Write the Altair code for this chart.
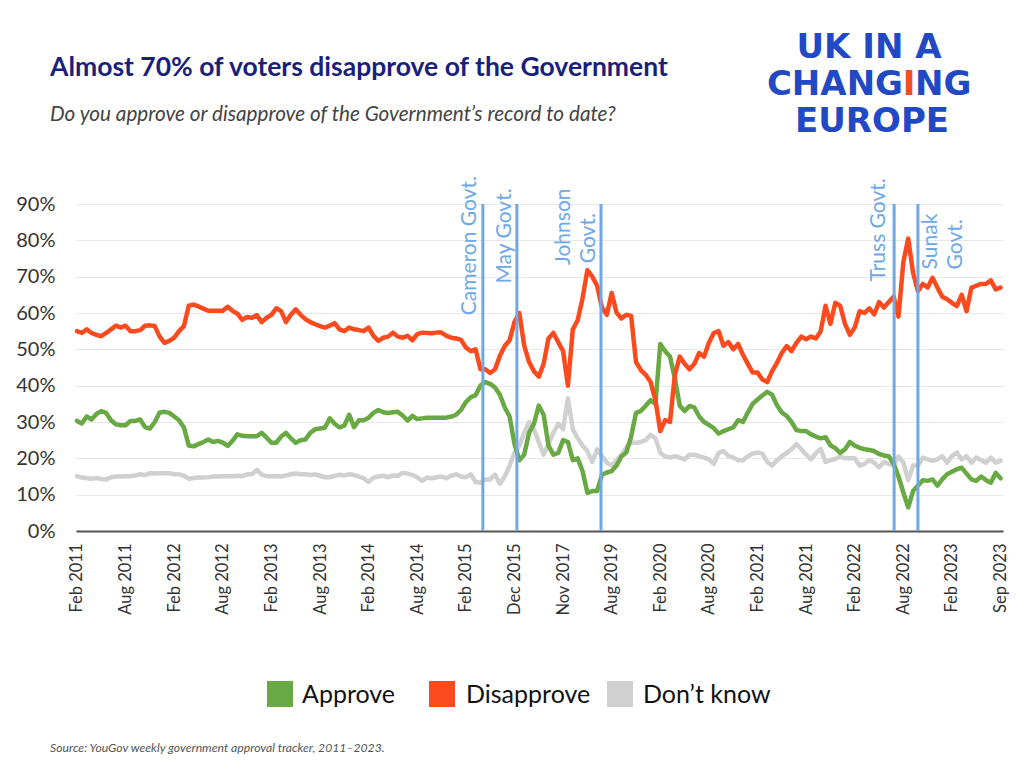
import json
import altair as alt
import pandas as pd

# ---------------------------------------------------------------------------
# Data: YouGov weekly government approval tracker, resampled to one value
# every tenth of an axis interval (ten points between consecutive tick labels)
# ---------------------------------------------------------------------------
TICK_LABELS = [
    "Feb 2011", "Aug 2011", "Feb 2012", "Aug 2012", "Feb 2013", "Aug 2013",
    "Feb 2014", "Aug 2014", "Feb 2015", "Dec 2015", "Nov 2017", "Aug 2019",
    "Feb 2020", "Aug 2020", "Feb 2021", "Aug 2021", "Feb 2022", "Aug 2022",
    "Feb 2023", "Sep 2023",
]
POINTS_PER_TICK = 10

APPROVE = [
    30.3, 29.6, 31.5, 30.7, 32.2, 33, 32.5, 30.5, 29.4, 29.1,
    29.1, 30.3, 30.3, 30.7, 28.6, 28.2, 30, 32.6, 32.8, 32.5,
    31.5, 30.5, 28.5, 23.5, 23.3, 23.9, 24.5, 25.2, 24.5, 24.8,
    24.3, 23.4, 24.8, 26.6, 26.2, 26.1, 26.1, 26.1, 27, 25.7,
    24.3, 24.3,
    26, 27, 25.5, 24.3, 25, 25.2, 27, 28, 28.2, 28.4,
    31, 29.5, 28.5, 29, 32, 28.6, 30.5, 30.5, 31.2, 32.5,
    33.3, 32.7, 32.5, 32.7, 32.8, 31.8, 30.4, 31.7, 30.8, 31,
    31.2, 31.2, 31.2, 31.2, 31.2, 31.5, 32, 33.3, 35.5, 36.8,
    37.4, 40,
    41, 40.5, 39.5, 37.5, 34, 31.5, 24, 19.5, 21, 27,
    29.5, 34.5, 32, 23.5, 21, 21.5, 25, 24.5, 19.5, 20,
    16.5, 10.5, 11, 11, 15.5, 16.1, 16.5, 18, 20.5, 21.6,
    26, 32.5, 33,
    34.5, 36, 35, 51.5, 49.5, 48,
    42, 34.5, 33, 34.4, 34, 31.5, 30, 29.2, 28.3, 26.8,
    27.5, 28, 28.5, 30.5, 30, 32.6, 35, 36.2, 37.3, 38.3,
    37.5, 34.6, 32.6, 31.7, 30, 27.8, 27.5, 27.5, 26.6, 26,
    25.5, 25.8, 23.6, 22.8, 21.5, 22.5, 24.5,
    23.5, 22.9, 22.5, 22.3, 22, 21.2, 20.8, 20.6, 18.5, 15,
    10.6, 6.5, 11, 12.5, 14, 13.8, 14.2, 12.5, 14.2, 15.6,
    16.3, 17, 17.4, 15.8, 14.2, 13.8, 15, 14, 13.3, 16,
    14.5,
]

DISAPPROVE = [
    55, 54.5, 55.5, 54.5, 54, 53.6, 54.5, 55.5, 56.5, 56,
    56.5, 55, 55, 55.3, 56.5, 56.6, 56.4, 53.5, 51.8, 52.3,
    53.2, 55, 56.4, 62, 62.3, 61.8, 61.2, 60.6, 60.6, 60.6,
    60.6, 61.7, 60.6, 59.8, 58.1, 58.9, 58.7, 59.4, 57.5, 58.7,
    59.5, 61.3,
    60.5, 57.5, 59.5, 61, 59.5, 58.3, 57.5, 56.9, 56.4, 56,
    56.5, 57.2, 55.5, 55, 56, 55.5, 55.3, 55, 56, 53.7,
    52.3, 53.2, 53.5, 54.6, 53.5, 53.2, 53.7, 52.5, 54.2, 54.6,
    54.5, 54.4, 54.6, 54.6, 53.7, 53.2, 53, 52.6, 50.5, 49.5,
    50, 44.5,
    44.5, 43.5, 44.5, 48.2, 50.9, 52.5, 57.5, 60, 51, 46.5,
    44, 42.5, 46, 53, 54.5, 52, 49.5, 40, 55.5, 58,
    64, 71.8, 70, 67.5, 61.5, 59.5, 65.5, 60.1, 58.5, 59.5,
    59.2, 46.5, 44.3,
    43, 41, 36, 27.5, 30.5, 30,
    43, 48, 46, 44.5, 46, 49, 48, 51.8, 54.5, 55,
    51, 52, 50, 51.5, 48.5, 46, 43.6, 43.6, 41.7, 41,
    44, 46.3, 49, 50.9, 49.5, 51.8, 53.5, 52.8, 53.5, 53,
    55, 62, 57, 62.8, 62, 57, 54,
    56, 60.5, 60, 61.3, 59.6, 63, 61.5, 63, 64.5, 59,
    74, 80.5, 71, 66, 68, 67, 69.7, 67, 64.5, 63.8,
    62.8, 61.9, 65, 60.5, 67, 67.5, 68, 68, 69, 66.5,
    67,
]

DONT_KNOW = [
    15.1, 14.7, 14.5, 14.4, 14.6, 14.3, 14.2, 14.8, 15, 15,
    15.1, 15.1, 15.3, 15.6, 15.4, 15.9, 15.8, 15.9, 15.9, 15.9,
    15.6, 15.6, 15.2, 14.4, 14.6, 14.7, 14.7, 14.8, 15, 15,
    15.1, 15.1, 15.1, 15.2, 15.1, 15.6, 15.6, 16.8, 15.5, 15.1,
    15.1, 15.1,
    15, 15.3, 15.6, 15.8, 15.6, 15.6, 15.4, 15.6, 15.2, 14.8,
    14.8, 15.2, 15.5, 15.3, 15.6, 15.4, 15, 14.5, 13.5, 14.7,
    15, 15.2, 14.8, 15.3, 15.2, 16, 15.8, 15.4, 14.8, 13.8,
    14.7, 14.5, 14.8, 15, 14.5, 15.2, 15.6, 15, 14.8, 15.6,
    13.5, 13.3,
    14.2, 14.2, 15.5, 13, 15, 18, 21.5, 23.5, 27, 30,
    28, 24.5, 21, 24, 27, 29.5, 28, 36.5, 28, 25.5,
    23.5, 22, 19, 22.5, 20.6, 18.8, 18, 19.5, 21, 23,
    24.3, 24.3, 24.5,
    25, 26.5, 25.5, 21.5, 20.5, 20.2,
    20.6, 20.2, 19.7, 21, 21, 20.6, 20.2, 19.7, 18.5, 21.5,
    22, 20.6, 20.2, 19.5, 19.5, 20.6, 21.3, 21.6, 21.3, 19,
    18, 19.5, 20.6, 21.5, 22.5, 23.9, 22.5, 21, 19.7, 21.4,
    22.6, 19, 19.5, 19.8, 20.5, 20, 20,
    20, 18, 18.5, 19.5, 18.8, 17.5, 19, 18.5, 18, 20.5,
    18.8, 14, 18, 18, 20.2, 19.7, 19.3, 19.7, 20.6, 18.8,
    20.6, 21.6, 19.7, 20.6, 18.8, 20.2, 19.5, 18.8, 20.2, 18.8,
    19.3,
]

SERIES = ["Approve", "Disapprove", "Don\u2019t know"]
SERIES_COLORS = ["#68a943", "#fb4a1e", "#d0d0d0"]

# Point index at which each government took office
GOVT_NAMES = ["Cameron", "May", "Johnson", "Truss", "Sunak"]
GOVT_STARTS = [83.5, 90.5, 107.8, 168.1, 173.0]

# Rotated labels beside the government lines: text, government, pixel offset
# from the line, and the % level where the text begins
GOVT_LABELS = [
    ("Cameron Govt.", 0, -13, 59.4),
    ("May Govt.", 1, -12, 68.1),
    ("Johnson", 2, -37, 73.2),
    ("Govt.", 2, -12, 73.7),
    ("Truss Govt.", 3, -15, 68.7),
    ("Sunak", 4, 13, 72.0),
    ("Govt.", 4, 38, 72.0),
]

# ---------------------------------------------------------------------------
# Layout
# ---------------------------------------------------------------------------
PAD_L, PAD_T = 76, 204
PLOT_W, PLOT_H = 927, 327
X_MIN, X_MAX = -0.2, 190.5
PX_PER_UNIT = PLOT_W / (X_MAX - X_MIN)
FONT = "Lato"
GOVT_BLUE = "#6ea8e6"

records = []
for name, values in zip(SERIES, [APPROVE, DISAPPROVE, DONT_KNOW]):
    for i, v in enumerate(values):
        records.append({"idx": i, "value": v, "series": name})
df = pd.DataFrame(records)

govt_df = pd.DataFrame({"name": GOVT_NAMES, "start": GOVT_STARTS})
govt_label_df = pd.DataFrame(
    [
        {"text": t, "xpos": GOVT_STARTS[g] + off / PX_PER_UNIT, "ypos": y}
        for t, g, off, y in GOVT_LABELS
    ]
)

tick_values = [i * POINTS_PER_TICK for i in range(len(TICK_LABELS))]
x_label_expr = f"{json.dumps(TICK_LABELS)}[round(datum.value / {POINTS_PER_TICK})]"

X_SCALE = alt.Scale(domain=[X_MIN, X_MAX], nice=False, zero=False)
Y_SCALE = alt.Scale(domain=[0, 90], nice=False)
X_AXIS = alt.Axis(
    values=tick_values, labelExpr=x_label_expr, title=None, labelAngle=270,
    labelAlign="right", labelBaseline="middle", labelFontSize=16.5,
    labelColor="#333333", labelFont=FONT, labelPadding=12, ticks=False,
    tickSize=0, labelFlush=False, labelOverlap=False, labelBound=False,
    domainColor="#555555", domainWidth=2, grid=False,
)
Y_AXIS = alt.Axis(
    values=list(range(0, 100, 10)), labelExpr="datum.value + '%'", title=None,
    labelFontSize=20, labelColor="#333333", labelFont=FONT, labelPadding=21,
    ticks=False, tickSize=0, domain=False, grid=True, gridColor="#e8e8e8",
    gridWidth=1,
)
COLOR = alt.Color("series:N", scale=alt.Scale(domain=SERIES, range=SERIES_COLORS), legend=None)


def series_layer(name):
    return (
        alt.Chart(df)
        .transform_filter(alt.FieldEqualPredicate(field="series", equal=name))
        .mark_line(strokeWidth=4.5, strokeJoin="round", strokeCap="round")
        .encode(
            x=alt.X("idx:Q", scale=X_SCALE, axis=X_AXIS),
            y=alt.Y("value:Q", scale=Y_SCALE, axis=Y_AXIS),
            color=COLOR,
        )
    )


def text_at(text, x, y, size, color, weight="normal", style="normal",
            align="left", baseline="alphabetic", font=FONT):
    return (
        alt.Chart(pd.DataFrame({"t": [text]}))
        .mark_text(align=align, baseline=baseline, fontSize=size,
                   fontWeight=weight, fontStyle=style, color=color, font=font)
        .encode(x=alt.value(x - PAD_L), y=alt.value(y - PAD_T), text="t:N")
    )


# Lines: "Don't know" underneath, then approve, then disapprove
lines = [series_layer(SERIES[2]), series_layer(SERIES[0]), series_layer(SERIES[1])]

govt_rules = (
    alt.Chart(govt_df)
    .mark_rule(color=GOVT_BLUE, strokeWidth=3)
    .encode(
        x=alt.X("start:Q", scale=X_SCALE, axis=X_AXIS),
        y=alt.datum(0, scale=Y_SCALE, axis=Y_AXIS),
        y2=alt.datum(90),
    )
)

govt_text = (
    alt.Chart(govt_label_df)
    .mark_text(angle=270, align="left", baseline="middle", fontSize=21,
               color=GOVT_BLUE, font=FONT)
    .encode(
        x=alt.X("xpos:Q", scale=X_SCALE, axis=X_AXIS),
        y=alt.Y("ypos:Q", scale=Y_SCALE, axis=Y_AXIS),
        text="text:N",
    )
)

# Title, subtitle, source note
NAVY = "#1b1f7c"
header = [
    text_at("Almost 70% of voters disapprove of the Government", 50, 76, 26.5, NAVY, weight="bold"),
    text_at("Do you approve or disapprove of the Government\u2019s record to date?", 50, 121, 20.7,
            "#444444", style="italic"),
    text_at("Source: YouGov weekly government approval tracker, 2011\u20132023.", 50, 752, 12.2,
            "#555555", style="italic"),
]

# Logo
LOGO_BLUE = "#2249c5"
LOGO_RED = "#f04e23"
LOGO_FONT = "DejaVu Sans"
logo = [
    text_at("UK IN A", 869, 58, 34, LOGO_BLUE, weight="bold", align="center", font=LOGO_FONT),
    text_at("CHANG", 903, 95, 34, LOGO_BLUE, weight="bold", align="right", font=LOGO_FONT),
    text_at("I", 909, 95, 34, LOGO_RED, weight="bold", align="center", font=LOGO_FONT),
    text_at("NG", 915, 95, 34, LOGO_BLUE, weight="bold", align="left", font=LOGO_FONT),
    text_at("EUROPE", 872, 132, 34, LOGO_BLUE, weight="bold", align="center", font=LOGO_FONT),
]

# Legend: coloured squares with labels
legend_layers = []
for name, col, sq_x, lab_x in zip(SERIES, SERIES_COLORS, [280, 442, 620], [302, 466, 643]):
    legend_layers.append(
        alt.Chart(pd.DataFrame({"s": [name]}))
        .mark_square(size=676, color=col, opacity=1, strokeWidth=0)
        .encode(x=alt.value(sq_x - PAD_L), y=alt.value(694 - PAD_T))
    )
    legend_layers.append(text_at(name, lab_x, 695, 25, "#111111", baseline="middle"))

chart = (
    alt.layer(*lines, govt_rules, govt_text, *header, *logo, *legend_layers)
    .properties(
        width=PLOT_W,
        height=PLOT_H,
        autosize="none",
        padding={"left": PAD_L, "top": PAD_T, "right": 1024 - PAD_L - PLOT_W,
                 "bottom": 768 - PAD_T - PLOT_H},
        background="white",
    )
    .configure_view(stroke=None)
)

chart.save("out.html", embed_options={"renderer": "svg", "actions": False})
